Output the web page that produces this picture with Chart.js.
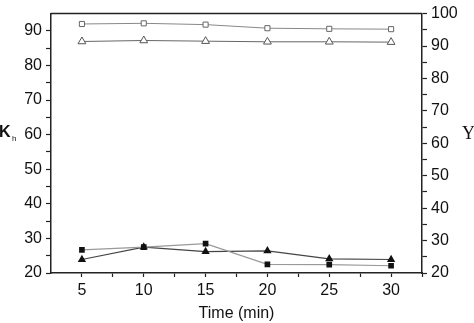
<!DOCTYPE html>
<html>
<head>
<meta charset="utf-8">
<script src="https://cdn.jsdelivr.net/npm/chart.js@4"></script>
<style>
  html, body { margin: 0; padding: 0; background: #fff; }
  #myChart { display: block; }
</style>
</head>
<body>
<canvas id="myChart" width="474" height="323"></canvas>
<script>
const MY_CHART = document.querySelector("#myChart");

// time (min)
const TIMES = [5, 10, 15, 20, 25, 30];
// Y (right axis), open symbols
const Y_SQUARE_OPEN = [96.8, 97.0, 96.6, 95.5, 95.3, 95.2];
const Y_TRIANGLE_OPEN = [91.4, 91.7, 91.5, 91.3, 91.3, 91.2];
// Kh (left axis), filled symbols
const KH_SQUARE = [26.7, 27.5, 28.5, 22.5, 22.4, 22.1];
const KH_TRIANGLE = [23.9, 27.5, 26.2, 26.4, 24.1, 23.9];

const X_TICKS = [5, 7.5, 10, 12.5, 15, 17.5, 20, 22.5, 25, 27.5, 30, 32.5];
const LEFT_TICKS = [20, 25, 30, 35, 40, 45, 50, 55, 60, 65, 70, 75, 80, 85, 90];
const RIGHT_TICKS = [20, 25, 30, 35, 40, 45, 50, 55, 60, 65, 70, 75, 80, 85, 90, 95, 100];

const pts = (ys) => TIMES.map((t, i) => ({x: t, y: ys[i]}));

const AXIS = "#222";
const FONT = {family: "'Liberation Sans', Arial, sans-serif", size: 16};

// labels Kh and Y beside the axes, and the top frame line
const extras = {
  id: "extras",
  afterDraw(chart) {
    const ctx = chart.ctx;
    const a = chart.chartArea;
    ctx.save();
    ctx.strokeStyle = AXIS;
    ctx.lineWidth = 1.5;
    ctx.beginPath();
    ctx.moveTo(a.left, a.top);
    ctx.lineTo(a.right, a.top);
    ctx.stroke();

    ctx.fillStyle = "#111";
    ctx.textBaseline = "alphabetic";
    ctx.textAlign = "left";
    ctx.font = "bold 16px 'Liberation Sans', Arial, sans-serif";
    ctx.fillText("K", -1, 137);
    ctx.font = "8px 'Liberation Sans', Arial, sans-serif";
    ctx.fillText("h", 12, 141);
    ctx.font = "18px 'Liberation Serif', 'Times New Roman', serif";
    ctx.fillText("Y", 462, 139);
    ctx.restore();
  }
};

const data = {
  datasets: [
    {
      label: "Y open square",
      data: pts(Y_SQUARE_OPEN),
      yAxisID: "yR",
      borderColor: "#888",
      borderWidth: 1,
      pointStyle: "rect",
      pointRadius: 3.6,
      pointBorderColor: "#666",
      pointBackgroundColor: "#fff",
      pointBorderWidth: 1
    },
    {
      label: "Y open triangle",
      data: pts(Y_TRIANGLE_OPEN),
      yAxisID: "yR",
      borderColor: "#666",
      borderWidth: 1,
      pointStyle: "triangle",
      pointRadius: 4.5,
      pointBorderColor: "#555",
      pointBackgroundColor: "#fff",
      pointBorderWidth: 1
    },
    {
      label: "Kh square",
      data: pts(KH_SQUARE),
      yAxisID: "yL",
      borderColor: "#999",
      borderWidth: 1.2,
      pointStyle: "rect",
      pointRadius: 4,
      pointBorderColor: "#111",
      pointBackgroundColor: "#111",
      pointBorderWidth: 0
    },
    {
      label: "Kh triangle",
      data: pts(KH_TRIANGLE),
      yAxisID: "yL",
      borderColor: "#444",
      borderWidth: 1.2,
      pointStyle: "triangle",
      pointRadius: 4.8,
      pointBorderColor: "#111",
      pointBackgroundColor: "#111",
      pointBorderWidth: 0
    }
  ]
};

const CONFIG = {
  type: "line",
  data: data,
  plugins: [extras],
  options: {
    responsive: false,
    animation: false,
    layout: {padding: {top: 6}},
    plugins: {legend: {display: false}, tooltip: {enabled: false}},
    scales: {
      x: {
        type: "linear",
        min: 2.5,
        max: 32.5,
        afterBuildTicks: (s) => { s.ticks = X_TICKS.map(v => ({value: v})); },
        afterFit: (s) => { s.height = 50; },
        border: {display: true, color: AXIS, width: 1.5},
        grid: {drawOnChartArea: false, color: AXIS, tickLength: 4, tickWidth: 1.2},
        ticks: {
          color: "#111",
          font: FONT,
          padding: 4,
          maxRotation: 0,
          autoSkip: false,
          callback: (v) => (v % 5 === 0 ? String(v) : "")
        },
        title: {display: true, text: "Time (min)", color: "#111", font: FONT, padding: {top: 0, bottom: 0}}
      },
      yL: {
        type: "linear",
        position: "left",
        min: 20,
        max: 95,
        afterBuildTicks: (s) => { s.ticks = LEFT_TICKS.map(v => ({value: v})); },
        afterFit: (s) => { s.width = 51; },
        border: {display: true, color: AXIS, width: 1.5},
        grid: {drawOnChartArea: false, color: AXIS, tickLength: 5, tickWidth: 1.2},
        ticks: {
          color: "#111",
          font: FONT,
          padding: 4,
          autoSkip: false,
          callback: (v) => (v % 10 === 0 ? String(v) : "")
        }
      },
      yR: {
        type: "linear",
        position: "right",
        min: 20,
        max: 100,
        afterBuildTicks: (s) => { s.ticks = RIGHT_TICKS.map(v => ({value: v})); },
        afterFit: (s) => { s.width = 52; },
        border: {display: true, color: AXIS, width: 1.5},
        grid: {drawOnChartArea: false, color: AXIS, tickLength: 5, tickWidth: 1.2},
        ticks: {
          color: "#111",
          font: FONT,
          padding: 4,
          autoSkip: false,
          callback: (v) => (v % 10 === 0 ? String(v) : "")
        }
      }
    }
  }
};

new Chart(MY_CHART, CONFIG);
</script>
</body>
</html>
